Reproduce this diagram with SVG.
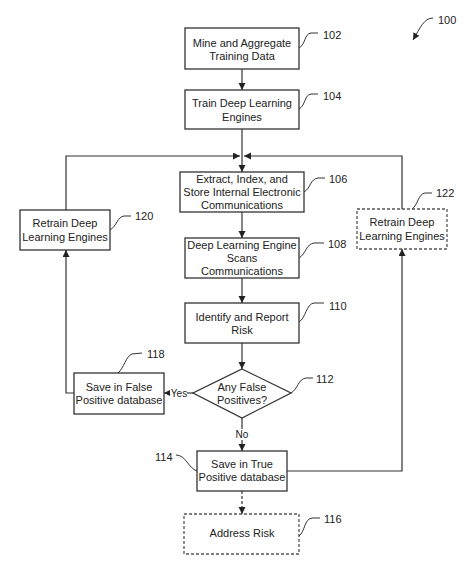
<svg xmlns="http://www.w3.org/2000/svg" width="474" height="583" viewBox="0 0 474 583">
<style>
.box{fill:#fff;stroke:#333;stroke-width:1.3}
.dash{fill:#fff;stroke:#555;stroke-width:1.3;stroke-dasharray:3,2}
.t{font-family:"Liberation Sans",Arial,sans-serif;font-size:11px;fill:#222;text-anchor:middle}
.n{font-family:"Liberation Sans",Arial,sans-serif;font-size:11px;fill:#222}
.s{font-family:"Liberation Sans",Arial,sans-serif;font-size:10px;fill:#222;text-anchor:middle}
.c{fill:none;stroke:#333;stroke-width:1.2}
.cd{fill:none;stroke:#333;stroke-width:1.2;stroke-dasharray:3,2}
.ld{fill:none;stroke:#333;stroke-width:1}
</style>
<defs>
<marker id="ah" markerUnits="userSpaceOnUse" markerWidth="8" markerHeight="8" refX="7" refY="3.5" orient="auto">
<path d="M0,0 L7,3.5 L0,7 Z" fill="#222"/>
</marker>
</defs>
<rect width="474" height="583" fill="#fff"/>
<g id="connectors">
<line class="c" x1="242" y1="69" x2="242" y2="90" marker-end="url(#ah)"/>
<line class="c" x1="242" y1="129" x2="242" y2="172" marker-end="url(#ah)"/>
<polyline class="c" points="66,210 66,156 240,156" marker-end="url(#ah)"/>
<polyline class="c" points="402,209 402,156 244,156" marker-end="url(#ah)"/>
<line class="c" x1="242" y1="212" x2="242" y2="238" marker-end="url(#ah)"/>
<line class="c" x1="242" y1="278" x2="242" y2="303" marker-end="url(#ah)"/>
<line class="c" x1="242" y1="343" x2="242" y2="369" marker-end="url(#ah)"/>
<line class="c" x1="193" y1="393" x2="164" y2="393" marker-end="url(#ah)"/>
<rect x="170" y="387" width="17" height="11" fill="#fff"/>
<text class="s" x="179" y="397">Yes</text>
<polyline class="c" points="74,393 66,393 66,250" marker-end="url(#ah)"/>
<line class="c" x1="242" y1="418" x2="242" y2="451" marker-end="url(#ah)"/>
<rect x="234" y="429" width="16" height="11" fill="#fff"/>
<text class="s" x="242" y="438">No</text>
<polyline class="c" points="287,471 402,471 402,249" marker-end="url(#ah)"/>
<line class="cd" x1="242" y1="491" x2="242" y2="514" marker-end="url(#ah)"/>
<path class="ld" d="M433,18 C424,18 420,28 413,40" marker-end="url(#ah)"/>
</g>
<g id="label100"><text class="n" x="438" y="24">100</text></g>
<g id="n102">
<rect class="box" x="185" y="28" width="114" height="41"/>
<text class="t" x="242" y="47">Mine and Aggregate</text>
<text class="t" x="242" y="60">Training Data</text>
<path class="ld" d="M299,48 C306,44 304,34 311,33 L318,33"/>
<text class="n" x="323" y="39">102</text>
</g>
<g id="n104">
<rect class="box" x="185" y="90" width="114" height="39"/>
<text class="t" x="242" y="107">Train Deep Learning</text>
<text class="t" x="242" y="121">Engines</text>
<path class="ld" d="M299,109 C306,105 304,95 311,94 L318,94"/>
<text class="n" x="323" y="100">104</text>
</g>
<g id="n106">
<rect class="box" x="180" y="172" width="124" height="40"/>
<text class="t" x="242" y="183">Extract, Index, and</text>
<text class="t" x="242" y="196">Store Internal Electronic</text>
<text class="t" x="242" y="209">Communications</text>
<path class="ld" d="M304,192 C311,188 310,179 318,178 L325,178"/>
<text class="n" x="329" y="183">106</text>
</g>
<g id="n108">
<rect class="box" x="185" y="238" width="114" height="40"/>
<text class="t" x="242" y="249">Deep Learning Engine</text>
<text class="t" x="242" y="262">Scans</text>
<text class="t" x="242" y="275">Communications</text>
<path class="ld" d="M299,258 C306,254 306,244 314,243 L324,243"/>
<text class="n" x="328" y="248">108</text>
</g>
<g id="n110">
<rect class="box" x="185" y="303" width="114" height="40"/>
<text class="t" x="242" y="321">Identify and Report</text>
<text class="t" x="242" y="334">Risk</text>
<path class="ld" d="M299,322 C306,318 306,304 314,303 L324,303"/>
<text class="n" x="329" y="310">110</text>
</g>
<g id="n112">
<polygon class="box" points="242,369 291,393 242,418 193,393"/>
<text class="t" x="242" y="391">Any False</text>
<text class="t" x="242" y="404">Positives?</text>
<path class="ld" d="M291,393 C298,389 298,379 306,378 L313,378"/>
<text class="n" x="316" y="383">112</text>
</g>
<g id="n118">
<rect class="box" x="74" y="373" width="90" height="41"/>
<text class="t" x="119" y="391">Save in False</text>
<text class="t" x="119" y="404">Positive database</text>
<path class="ld" d="M118,373 C124,368 126,356 132,354 L142,353"/>
<text class="n" x="147" y="358">118</text>
</g>
<g id="n120">
<rect class="box" x="20" y="210" width="90" height="40"/>
<text class="t" x="65" y="227">Retrain Deep</text>
<text class="t" x="65" y="241">Learning Engines</text>
<path class="ld" d="M110,230 C117,226 117,217 124,216 L131,216"/>
<text class="n" x="135" y="220">120</text>
</g>
<g id="n122">
<rect class="dash" x="357" y="209" width="90" height="40"/>
<text class="t" x="402" y="226">Retrain Deep</text>
<text class="t" x="402" y="240">Learning Engines</text>
<path class="ld" d="M412,209 C418,205 418,194 425,193 L432,193"/>
<text class="n" x="436" y="197">122</text>
</g>
<g id="n114">
<rect class="box" x="197" y="451" width="90" height="40"/>
<text class="t" x="242" y="468">Save in True</text>
<text class="t" x="242" y="481">Positive database</text>
<path class="ld" d="M176,455 C186,455 188,468 197,471"/>
<text class="n" x="155" y="461">114</text>
</g>
<g id="n116">
<rect class="dash" x="184" y="514" width="115" height="40"/>
<text class="t" x="242" y="537">Address Risk</text>
<path class="ld" d="M299,536 C305,532 304,519 312,518 L320,518"/>
<text class="n" x="324" y="523">116</text>
</g>
</svg>
